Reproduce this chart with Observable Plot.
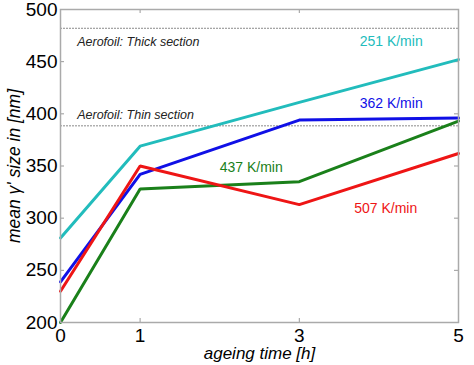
<!DOCTYPE html>
<html><head><meta charset="utf-8">
<script src="https://cdn.jsdelivr.net/npm/d3@7"></script>
<script src="https://cdn.jsdelivr.net/npm/@observablehq/plot@0.6"></script>
<style>body{margin:0;background:#fff}</style>
</head><body><div id="chart"></div>
<script>
const times = [0, 1, 3, 5];
const seriesNames = ["251 K/min", "362 K/min", "437 K/min", "507 K/min"];
const cyan251 = [281, 369, 411, 452];
const blue362 = [239, 342, 394, 396];
const green437 = [200, 328, 335, 393];
const red507 = [230, 350, 313, 362];
const colors = ["#22bcbc", "#1010e6", "#1a801a", "#ee1515"];
const labelPos = [[4.55, 469], [4.55, 410], [2.0, 349], [3.69, 309]];
const labelAnchor = ["end", "end", "start", "start"];
const refValues = [482, 388.5];
const refLabels = ["Aerofoil: Thick section", "Aerofoil: Thin section"];
const refLabelY = [469, 399];
const yTicks = [200, 250, 300, 350, 400, 450, 500];
const xTicks = [0, 1, 3, 5];
const xLabel = "ageing time [h]";
const yLabel = "mean γ' size in [nm]";

const allSeries = [cyan251, blue362, green437, red507];
const rows = allSeries.flatMap((vals, i) => vals.map((v, j) => ({t: times[j], v, s: seriesNames[i]})));
const labels = seriesNames.map((s, i) => ({s, x: labelPos[i][0], y: labelPos[i][1], a: labelAnchor[i], c: colors[i]}));

const W = 474, H = 365, mL = 60, mR = 16, mT = 9, mB = 43;
const pw = W - mL - mR, ph = H - mT - mB;
const font = "Liberation Sans, Arial, sans-serif";

const chart = Plot.plot({
  width: W, height: H,
  marginLeft: mL, marginRight: mR, marginTop: mT, marginBottom: mB,
  style: {fontFamily: font, background: "#fff"},
  x: {domain: [0, 5]},
  y: {domain: [200, 500]},
  color: {domain: seriesNames, range: colors},
  marks: [
    Plot.ruleY(refValues, {stroke: "#8a8a8a", strokeWidth: 1, strokeDasharray: "2,1"}),
    Plot.text(refLabels, {x: 0.21, y: (d, i) => refLabelY[i], text: d => d, textAnchor: "start", fontSize: 12.5, fontStyle: "italic", fill: "#222"}),
    Plot.tickY(yTicks, {y: d => d, stroke: "#999", insetRight: pw - 4}),
    Plot.tickY(yTicks, {y: d => d, stroke: "#999", insetLeft: pw - 4}),
    Plot.tickX(xTicks, {x: d => d, stroke: "#999", insetTop: ph - 4}),
    Plot.tickX(xTicks, {x: d => d, stroke: "#999", insetBottom: ph - 4}),
    Plot.line(rows, {x: "t", y: "v", z: "s", stroke: "s", strokeWidth: 3, strokeLinejoin: "miter"}),
    Plot.text(labels.filter(d => d.a === "end"), {x: "x", y: "y", text: "s", textAnchor: "end", fill: d => d.c, fontSize: 14}),
    Plot.text(labels.filter(d => d.a === "start"), {x: "x", y: "y", text: "s", textAnchor: "start", fill: d => d.c, fontSize: 14}),
    Plot.frame({stroke: "#aaa", strokeWidth: 1.5}),
    Plot.axisY(yTicks, {tickSize: 0, tickPadding: 3, fontSize: 19, fill: "#000", label: null}),
    Plot.axisX(xTicks, {tickSize: 0, tickPadding: 6, fontSize: 19, fill: "#000", label: null}),
    Plot.text([yLabel], {frameAnchor: "left", textAnchor: "middle", dx: -46, rotate: -90, text: d => d, fontSize: 17.5, fontStyle: "italic", fill: "#000"}),
    Plot.text([xLabel], {frameAnchor: "bottom", textAnchor: "middle", dy: 36, text: d => d, fontSize: 17, fontStyle: "italic", fill: "#000"})
  ]
});
document.getElementById("chart").append(chart);
</script>
</body></html>
